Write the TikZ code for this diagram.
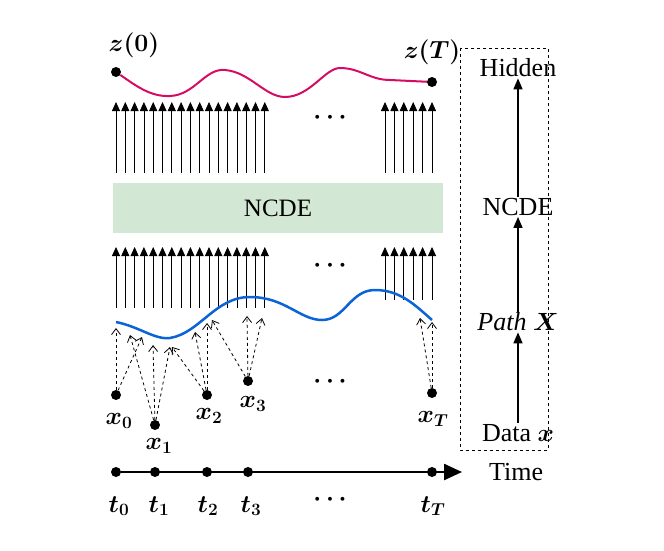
\documentclass[tikz,border=0pt]{standalone}
\usepackage{bm}
\usepackage{fontspec}
\setmainfont{Liberation Serif}
\usetikzlibrary{arrows.meta}
\begin{document}
\begin{tikzpicture}[x=1pt,y=-1pt,
  dot/.style={circle,fill=black,inner sep=0pt,minimum size=10pt},
  lab/.style={font=\fontsize{24}{27}\selectfont},
  dots/.style={font=\fontsize{28}{30}\selectfont},
  rlab/.style={font=\fontsize{26}{28}\selectfont,inner sep=1pt},
  uparr/.style={-{Triangle[width=8pt,length=9pt]},line width=0.8pt},
  darr/.style={-{Straight Barb[length=6pt,width=9pt]},dashed,line width=0.8pt},
  bigarr/.style={-{Triangle[width=9pt,length=11pt]},line width=1.5pt}]
\useasboundingbox (0,0) rectangle (664,551);
% top curve
\node[dot] (z0) at (116,72) {};
\node[dot] (zT) at (432,82) {};
\node[lab] at (134,45) {$\bm{z(0)}$};
\node[lab] at (432,52) {$\bm{z(T)}$};
\draw[line width=2pt,color={rgb,255:red,214;green,12;blue,100}] (z0) .. controls (135,85) and (150,97) .. (170,96) .. controls (195,95) and (205,68) .. (225,70) .. controls (250,72) and (265,97) .. (285,97) .. controls (310,97) and (325,68) .. (340,68) .. controls (360,68) and (370,80) .. (390,80) -- (zT);
% upper arrows
\foreach \i in {0,...,16} \draw[uparr] ({116+9.3*\i},173) -- ({116+9.3*\i},102);
\foreach \i in {0,...,5} \draw[uparr] ({385+9.4*\i},173) -- ({385+9.4*\i},102);
\node[dots] at (330,118) {$\bm{\cdots}$};
% NCDE box
\node[fill={rgb,255:red,210;green,232;blue,212},minimum width=330pt,minimum height=50pt,font=\fontsize{25}{27}\selectfont] (ncde) at (278,208) {NCDE};
% lower arrows
\foreach \i in {0,...,16} \draw[uparr] ({116+9.3*\i},308) -- ({116+9.3*\i},247);
\foreach \i in {0,...,5} \draw[uparr] ({385+9.4*\i},300) -- ({385+9.4*\i},247);
\node[dots] at (330,266) {$\bm{\cdots}$};
% blue curve
\draw[line width=2.5pt,color={rgb,255:red,10;green,100;blue,215}] (116,322) .. controls (140,327) and (155,340) .. (170,338) .. controls (200,333) and (215,297) .. (250,297) .. controls (285,297) and (300,320) .. (322,320) .. controls (345,320) and (350,290) .. (375,290) .. controls (400,290) and (415,305) .. (432,320);
% data points
\node[dot] (x0) at (116,395) {};
\node[dot] (x1) at (155,425) {};
\node[dot] (x2) at (207,395) {};
\node[dot] (x3) at (248,381) {};
\node[dot] (xT) at (432,393) {};
\node[lab] at (119,421) {$\bm{x_0}$};
\node[lab] at (159,446) {$\bm{x_1}$};
\node[lab] at (209,416) {$\bm{x_2}$};
\node[lab] at (253,404) {$\bm{x_3}$};
\node[lab] at (433,419) {$\bm{x_T}$};
\node[dots] at (330,382) {$\bm{\cdots}$};
\draw[darr] (x0) -- (116,328);
\draw[darr] (x0) -- (142,337);
\draw[darr] (x1) -- (130,335);
\draw[darr] (x1) -- (153,345);
\draw[darr] (x1) -- (170,347);
\draw[darr] (x2) -- (172,347);
\draw[darr] (x2) -- (195,332);
\draw[darr] (x2) -- (207,323);
\draw[darr] (x3) -- (212,320);
\draw[darr] (x3) -- (247,316);
\draw[darr] (x3) -- (262,318);
\draw[darr] (xT) -- (420,318);
\draw[darr] (xT) -- (432,322);
% timeline
\coordinate (tend) at (462,472);
\node[dot] (t0) at (116,472) {};
\node[dot] (t1) at (155,472) {};
\node[dot] (t2) at (207,472) {};
\node[dot] (t3) at (248,472) {};
\node[dot] (tT) at (432,472) {};
\draw[line width=2.5pt,-{Triangle[width=16pt,length=18pt]}] (t0) -- (tend);
\node[rlab,anchor=west] at (488,472) {Time};
\node[lab] at (119,506) {$\bm{t_0}$};
\node[lab] at (159,506) {$\bm{t_1}$};
\node[lab] at (208,506) {$\bm{t_2}$};
\node[lab] at (251,506) {$\bm{t_3}$};
\node[lab] at (433,506) {$\bm{t_T}$};
\node[dots] at (330,500) {$\bm{\cdots}$};
% right panel
\draw[dashed,line width=0.7pt] (460,48) rectangle (548,450);
\node[rlab] (h) at (518,68) {Hidden};
\node[rlab] (n) at (518,207) {NCDE};
\node[rlab] (p) at (518,322) {\textit{Path} $\bm{X}$};
\node[rlab] (d) at (518,433) {Data $\bm{x}$};
\draw[bigarr] (d) -- (p);
\draw[bigarr] (p) -- (n);
\draw[bigarr] (n) -- (h);
\end{tikzpicture}
\end{document}
